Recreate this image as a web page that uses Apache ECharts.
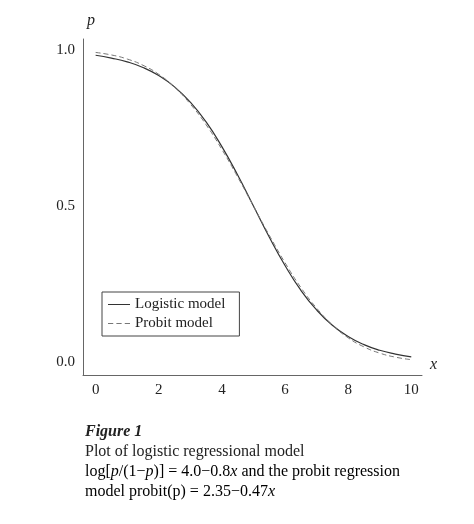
<!DOCTYPE html>
<html><head><meta charset="utf-8">
<script src="https://cdn.jsdelivr.net/npm/echarts@6/dist/echarts.min.js"></script>
<style>html,body{margin:0;padding:0;background:#fff}#c{width:474px;height:524px}</style>
</head><body><div id="c"></div>
<script>
var xs = [0,0.5,1,1.5,2,2.5,3,3.5,4,4.5,5,5.5,6,6.5,7,7.5,8,8.5,9,9.5,10];
var logistic = [0.982,0.973,0.961,0.943,0.917,0.881,0.832,0.769,0.690,0.599,0.5,0.401,0.310,0.231,0.168,0.119,0.083,0.057,0.039,0.027,0.018];
var probit = [0.991,0.983,0.970,0.950,0.921,0.880,0.826,0.760,0.681,0.593,0.5,0.407,0.319,0.240,0.174,0.120,0.079,0.050,0.030,0.017,0.009];
var xTicks = [0,2,4,6,8,10];
var yTicks = [0.0,0.5,1.0];
var F = '"Liberation Serif","DejaVu Serif",serif';
function pairs(v){return xs.map(function(x,i){return [x,v[i]];});}
var chart = echarts.init(document.getElementById('c'));
var rich = {i:{fontStyle:'italic',fontFamily:F,fontSize:16,color:'#222'},n:{fontFamily:F,fontSize:16,color:'#222'}};
chart.setOption({
  animation:false,
  grid:{left:83,right:52,top:39,bottom:149},
  legend:{left:102,top:292,orient:'vertical',width:134,itemWidth:22,itemHeight:8,itemGap:4,
    borderColor:'#444',borderWidth:1,padding:[5,14,5,6],
    textStyle:{fontFamily:F,fontSize:15,color:'#222'},
    data:[{name:'Logistic model',icon:'path://M0,4L22,4L22,5L0,5Z'},{name:'Probit model',icon:'path://M0,4L5,4L5,5L0,5ZM8,4L13,4L13,5L8,5ZM16,4L21,4L21,5L16,5Z'}]},
  xAxis:{type:'value',min:-0.4,max:10.34,splitLine:{show:false},
    axisLine:{onZero:false,lineStyle:{color:'#666'}},axisTick:{show:false},
    axisLabel:{fontFamily:F,fontSize:15,color:'#222',margin:8,
      customValues:xTicks,formatter:function(v){return String(v);}},
    name:'x',nameLocation:'end',nameGap:8,nameTextStyle:{fontFamily:F,fontSize:16,fontStyle:'italic',color:'#222',verticalAlign:'bottom',padding:[0,0,2,0]}},
  yAxis:{type:'value',min:-0.04,max:1.034,splitLine:{show:false},
    axisLine:{show:true,onZero:false,lineStyle:{color:'#666'}},axisTick:{show:false},
    axisLabel:{fontFamily:F,fontSize:15,color:'#222',margin:8,
      customValues:yTicks,formatter:function(v){return v.toFixed(1);}},
    name:'p',nameLocation:'end',nameGap:10,nameTextStyle:{fontFamily:F,fontSize:16,fontStyle:'italic',color:'#222',align:'left',padding:[0,0,0,4]}},
  series:[
    {name:'Logistic model',type:'line',data:pairs(logistic),smooth:true,showSymbol:false,
      lineStyle:{color:'#333',width:1.2},itemStyle:{color:'#333'}},
    {name:'Probit model',type:'line',data:pairs(probit),smooth:true,showSymbol:false,
      lineStyle:{color:'#777',width:1,type:[5,3]},itemStyle:{color:'#777'}}
  ],
  graphic:[
    {type:'text',left:85,top:424,style:{text:'Figure 1',font:'italic bold 16px '+F,fill:'#222'}},
    {type:'text',left:85,top:444,style:{text:'Plot of logistic regressional model',font:'16px '+F,fill:'#222'}},
    {type:'text',left:85,top:464,style:{text:'{n|log[}{i|p}{n|/(1−}{i|p}{n|)] = 4.0−0.8}{i|x}{n| and the probit regression}',rich:rich}},
    {type:'text',left:85,top:484,style:{text:'{n|model probit(p) = 2.35−0.47}{i|x}',rich:rich}}
  ]
});
</script></body></html>
